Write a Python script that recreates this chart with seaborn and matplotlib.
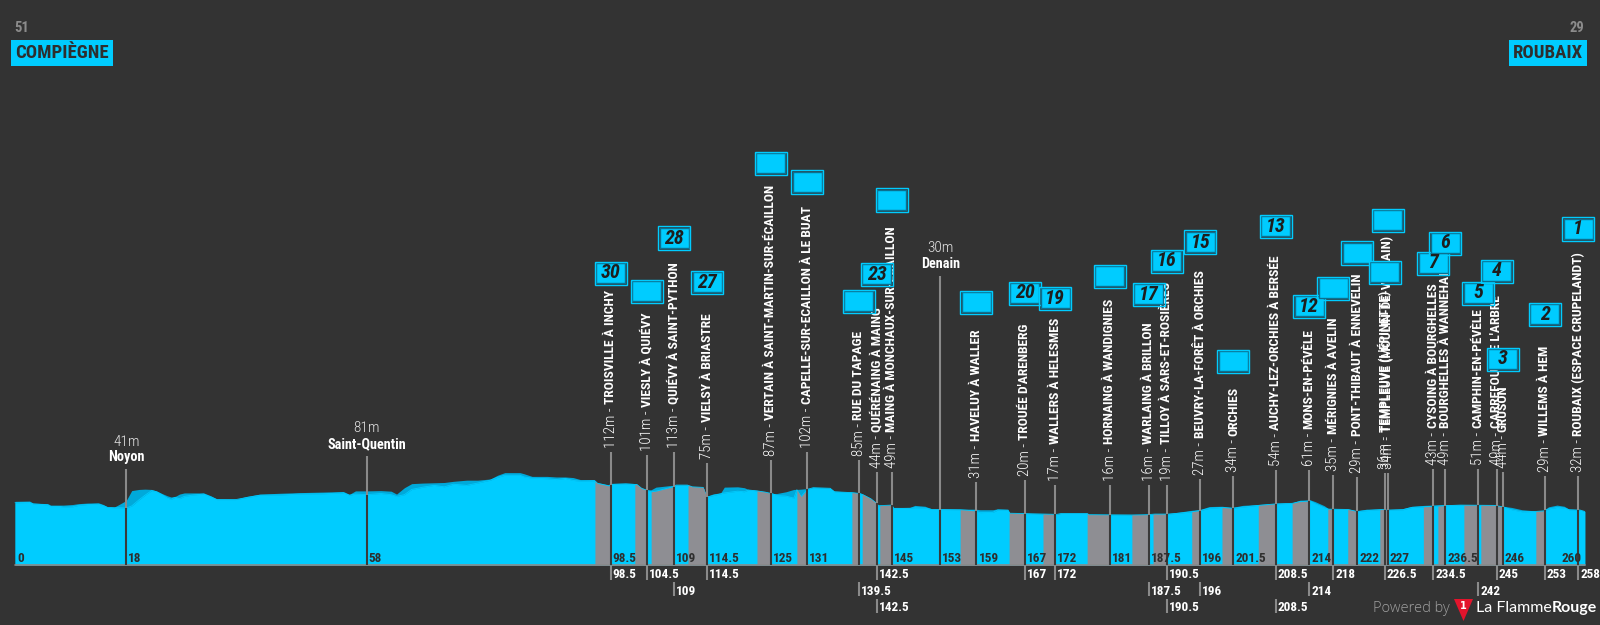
import os
import numpy as np
import matplotlib
matplotlib.use("Agg")
import matplotlib.pyplot as plt
import seaborn as sns
from matplotlib import font_manager as fm
from matplotlib.patches import Rectangle, Polygon

BG = "#333333"
CYAN = "#00CCFF"
CYAN_DARK = "#00A9DA"
GREY = "#8E8E93"
LINE = "#8A8A8A"
INK = "#2E2E2E"

# elevation profile, km from start / metres (lighter fill and darker top layer)
KM = [0.0, 2.4, 3.0, 5.4, 5.9, 7.5, 8.0, 9.5, 10.5, 12.0, 13.8, 14.6, 15.3, 16.4, 17.2,
      18.4, 19.3, 20.5, 21.5, 22.6, 23.4, 24.3, 25.2, 25.8, 26.5, 27.2, 28.0, 29.5, 31.2,
      32.4, 33.4, 36.5, 38.3, 40.5, 44.0, 47.0, 51.0, 54.3, 55.3, 56.3, 58.2, 60.5, 62.2,
      63.1, 64.4, 65.6, 67.5, 69.3, 71.0, 72.5, 74.7, 76.5, 78.6, 79.8, 81.0, 83.5, 84.2,
      85.5, 88.0, 89.5, 91.0, 92.3, 93.5, 95.8, 96.3, 98.2, 98.5, 101.0, 102.8, 103.6,
      104.5, 105.2, 106.0, 108.2, 109.0, 109.3, 111.2, 112.0, 113.8, 114.4, 115.5, 116.7,
      117.3, 119.5, 120.6, 121.3, 122.7, 124.0, 125.3, 126.0, 127.5, 128.8, 129.3, 130.0,
      131.0, 132.0, 134.8, 135.5, 138.4, 139.7, 140.2, 141.5, 142.5, 142.8, 145.0, 145.3,
      148.0, 148.8, 150.5, 151.6, 156.3, 158.8, 159.6, 161.7, 162.5, 164.2, 164.5, 172.3,
      173.0, 177.3, 177.6, 184.7, 187.2, 188.5, 190.7, 192.5, 194.6, 196.0, 197.5, 199.6,
      201.3, 203.0, 205.6, 208.4, 211.2, 212.5, 214.2, 215.0, 216.5, 217.2, 220.4, 221.9,
      223.5, 226.1, 226.8, 229.5, 231.0, 233.0, 236.5, 239.0, 244.6, 246.1, 247.5, 249.2,
      251.4, 252.8, 253.6, 255.0, 256.2, 257.0, 258.8, 259.6]
ELEV = [58, 59, 54, 51, 45, 45, 43, 44, 49, 52, 53, 48, 42, 41, 41,
        40, 47, 68, 84, 100, 96, 86, 74, 70, 77, 72, 80, 85, 88,
        78, 69, 69, 76, 84, 85, 88, 89, 92, 84, 88, 86, 90, 86,
        80, 86, 104, 112, 118, 113, 122, 118, 126, 136, 146, 153, 153, 147,
        143, 141, 138, 142, 135, 133, 134, 125, 116, 121, 123, 121, 108,
        101, 96, 98, 110, 114, 119, 119, 113, 111, 78, 83, 89,
        92, 98, 96, 102, 99, 95, 89, 83, 81, 74, 103, 79,
        104, 110, 108, 96, 93, 90, 86, 72, 56, 48, 50, 38,
        39, 41, 40, 35, 34, 30, 24, 25, 33, 32, 22, 18,
        21, 21, 17, 16, 17, 19, 19, 22, 27, 31, 39, 42,
        39, 43, 49, 54, 56, 62, 64, 55, 41, 36, 35, 28,
        31, 35, 33, 34, 42, 44, 48, 50, 49, 44, 34, 27,
        28, 30, 37, 42, 40, 34, 33, 28]
ELEV_TOP = [63, 64, 57, 55, 50, 50, 50, 52, 55, 57, 58, 52, 44, 43, 52,
            66, 100, 104, 105, 104, 99, 90, 82, 78, 80, 88, 92, 92, 92,
            82, 71, 70, 80, 88, 91, 93, 95, 97, 87, 99, 99, 100, 98,
            88, 110, 124, 126, 127, 128, 132, 136, 136, 140, 153, 162, 162, 158,
            149, 149, 147, 147, 145, 138, 138, 128, 120, 125, 126, 124, 110,
            103, 103, 112, 117, 118, 120, 120, 114, 112, 80, 89, 92,
            112, 113, 110, 104, 101, 96, 90, 90, 96, 104, 104, 105,
            107, 111, 109, 98, 95, 92, 88, 74, 57, 48, 51, 42,
            42, 49, 46, 37, 36, 36, 34, 34, 37, 36, 23, 19,
            22, 22, 18, 17, 18, 20, 21, 26, 32, 35, 45, 46,
            42, 49, 52, 56, 58, 67, 68, 62, 48, 38, 37, 30,
            36, 37, 34, 38, 46, 49, 52, 52, 51, 46, 42, 34,
            30, 31, 44, 50, 46, 36, 34, 28]

# cobbled sectors: label, altitude, km at the marker, km where the cobbles start, sector number
SECTOR_NAME = ["TROISVILLE À INCHY", "VIESLY À QUIÉVY", "QUIÉVY À SAINT-PYTHON", "VIELSY À BRIASTRE",
               "VERTAIN À SAINT-MARTIN-SUR-ÉCAILLON", "CAPELLE-SUR-ECAILLON À LE BUAT",
               "RUE DU TAPAGE", "QUÉRÉNAING À MAING", "MAING À MONCHAUX-SUR-ÉCAILLON",
               "HAVELUY À WALLER", "TROUÉE D'ARENBERG", "WALLERS À HELESMES",
               "HORNAING À WANDIGNIES", "WARLAING À BRILLON", "TILLOY À SARS-ET-ROSIÈRES",
               "BEUVRY-LA-FORÊT À ORCHIES", "ORCHIES", "AUCHY-LEZ-ORCHIES À BERSÉE",
               "MONS-EN-PÉVÈLE", "MÉRIGNIES À AVELIN", "PONT-THIBAUT À ENNEVELIN",
               "TEMPLEUVE (L'ÉPINETTE)", "TEMPLEUVE (MOULIN-DE-VERTAIN)", "CYSOING À BOURGHELLES",
               "BOURGHELLES À WANNEHAIN", "CAMPHIN-EN-PÉVÈLE", "CARREFOUR DE L'ARBRE",
               "GRUSON", "WILLEMS À HEM", "ROUBAIX (ESPACE CRUPELANDT)"]
SECTOR_ALT = [112, 101, 113, 75, 87, 102, 85, 44, 49, 31, 20, 17, 16, 16, 19,
              27, 34, 54, 61, 35, 29, 36, 34, 43, 49, 51, 49, 44, 29, 32]
SECTOR_KM = [98.5, 104.5, 109, 114.5, 125, 131, 139.5, 142.5, 145, 159, 167, 172, 181, 187.5, 190.5,
             196, 201.5, 208.5, 214, 218, 222, 226.5, 227, 234.5, 236.5, 242, 245, 246, 253, 258.5]
SECTOR_START = [95.9, 102.5, 105.2, 111.3, 122.7, 129.3, 138.4, 140.1, 143.0, 156.3, 164.4, 170.0,
                177.3, 184.7, 188.2, 194.6, 199.6, 205.6, 211.2, 217.1, 220.4, 225.7, 226.6,
                232.9, 235.3, 239.6, 242.4, 244.8, 251.5, 258.5]
SECTOR_NO = ["30", "", "28", "27", "", "", "", "23", "", "", "20", "19", "", "17", "16",
             "15", "", "13", "12", "", "", "", "", "7", "6", "5", "4", "3", "2", "1"]

TOWN_NAME = ["Noyon", "Saint-Quentin", "Denain"]
TOWN_ALT = [41, 81, 30]
TOWN_KM = [18.4, 58.2, 153]

INNER_KM = [0, 18.4, 58.2, 98.5, 109, 114.5, 125, 131, 145, 153, 159, 167, 172, 181,
            187.5, 196, 201.5, 214, 222, 227, 236.5, 246]
INNER_LABEL = ["0", "18", "58", "98.5", "109", "114.5", "125", "131", "145", "153", "159", "167",
               "172", "181", "187.5", "196", "201.5", "214", "222", "227", "236.5", "246"]
FINISH_LABEL = "260"

BELOW_KM = [98.5, 104.5, 109, 114.5, 139.5, 142.5, 142.5, 167, 172, 187.5, 190.5, 190.5,
            196, 208.5, 208.5, 214, 218, 226.5, 234.5, 242, 245, 253, 258.5]
BELOW_LABEL = ["98.5", "104.5", "109", "114.5", "139.5", "142.5", "142.5", "167", "172", "187.5",
               "190.5", "190.5", "196", "208.5", "208.5", "214", "218", "226.5", "234.5", "242",
               "245", "253", "258.5"]
BELOW_ROW = [1, 1, 2, 1, 2, 1, 3, 1, 1, 2, 1, 3, 2, 1, 3, 2, 1, 1, 1, 2, 1, 1, 1]

START, FINISH = "COMPIÈGNE", "ROUBAIX"
START_NO, FINISH_NO = "51", "29"

# layout (pixel rows from the top of the 1600x625 canvas)
LINE_TOP = [452, 455, 452, 463, 460, 452, 460, 472, 472, 482, 480, 485, 485, 485, 485,
            479, 476, 470, 470, 475, 477, 473, 473, 469, 469, 469, 469, 472, 476, 476]
BOX_Y = [273, 291, 238, 282, 163, 182, 301, 274, 200, 302, 293, 298, 276, 294, 261,
         242, 361, 226, 306, 288, 253, 272, 220, 263, 243, 293, 271, 359, 314, 229]
TOWN_TOP = [469, 456, 276]
TOWN_ALT_Y = [442, 428, 248]
TOWN_NAME_Y = [457, 444, 264]


def kx(px):
    return (px - 15) / 6.047


def my(py):
    return (519.6 - py) / 0.29


def font_file(keys, wmin, wmax, italic=False):
    for key in keys:
        for f in sorted(fm.fontManager.ttflist, key=lambda f: f.fname):
            fn = os.path.basename(f.fname).lower()
            w = f.weight if isinstance(f.weight, (int, float)) else fm.weight_dict.get(f.weight, 400)
            if key in fn and wmin <= w <= wmax and (f.style != "normal") == italic:
                return f.fname
    return None


COND = ["notosans-extracondensed", "notosans-condensed", "robotocondensed",
        "liberationsansnarrow", "dejavusanscondensed"]


def fp(size, wmin, wmax, italic=False, fallback_weight="bold"):
    path = font_file(COND, wmin, wmax, italic)
    if path:
        return fm.FontProperties(fname=path, size=size)
    return fm.FontProperties(family="DejaVu Sans", weight=fallback_weight,
                             style="italic" if italic else "normal", size=size * 0.8)


sns.set_theme(style="dark", rc={"axes.facecolor": BG, "figure.facecolor": BG})
plt.rcParams["font.family"] = ["DejaVu Sans"]

FP_NAME = fp(9.7, 700, 799)
FP_PRE = fp(10.8, 250, 350, fallback_weight="light")
FP_NUM = fp(14.5, 700, 799, italic=True)
FP_KM = fp(9.5, 700, 799)
FP_HEAD = fp(13.5, 700, 799)
FP_HNO = fp(10.5, 700, 799)
FP_TOWN = fp(10.3, 700, 799)
FP_TALT = fp(11, 250, 350, fallback_weight="light")

fig = plt.figure(figsize=(16, 6.25), dpi=100)
ax = fig.add_axes([0, 0, 1, 1])
ax.set_xlim(kx(0), kx(1600))
ax.set_ylim(my(625), my(0))
ax.set_axis_off()

base = my(565)
km = np.array(KM)
elev = np.array(ELEV)

# profile: darker top layer, then lighter fill
ax.fill_between(km, base, ELEV_TOP, color=CYAN_DARK, lw=0, zorder=1)
ax.fill_between(km, base, elev, color=CYAN, lw=0, zorder=2)
sns.lineplot(x=km, y=elev, ax=ax, color=CYAN, lw=0.6, zorder=2)

# cobbled sectors
for s, e in zip(SECTOR_START, SECTOR_KM):
    seg = [s] + [k for k in KM if s < k < e] + [e]
    ax.fill_between(seg, base, np.interp(seg, km, elev), color=GREY, lw=0, zorder=3)

ax.plot([0, KM[-1]], [base, base], color=LINE, lw=1.2, zorder=4)


def marker_line(k, top_px):
    top = np.interp(k, km, elev)
    ax.plot([k, k], [top, my(top_px)], color=LINE, lw=1.5, zorder=4, solid_capstyle="butt")
    ax.plot([k, k], [base, top], color="#3A3A3A", lw=1.5, zorder=4, solid_capstyle="butt")


for i, name in enumerate(SECTOR_NAME):
    k = SECTOR_KM[i]
    marker_line(k, LINE_TOP[i])
    t = ax.text(k, my(LINE_TOP[i] - 4), f"{SECTOR_ALT[i]}m - ", rotation=90, ha="center",
                va="bottom", fontproperties=FP_PRE, color="white", zorder=6)
    ax.annotate(name, xy=(0.5, 1.0), xycoords=t, rotation=90, ha="center", va="bottom",
                fontproperties=FP_NAME, color="white", zorder=6)
    # sector box
    w, h = 29 / 6.047, 20 / 0.29
    cy = my(BOX_Y[i])
    ax.add_patch(Rectangle((k - w / 2, cy - h / 2), w, h, fc=CYAN, ec="#0C6F8F", lw=1.0, zorder=7))
    ax.add_patch(Rectangle((k - w / 2 - 1.5 / 6.047, cy - h / 2 - 1.5 / 0.29), w + 3 / 6.047,
                           h + 3 / 0.29, fc="none", ec=CYAN, lw=1.0, zorder=7))
    if SECTOR_NO[i]:
        ax.text(k, cy, SECTOR_NO[i], ha="center", va="center", fontproperties=FP_NUM,
                color="#1E1E1E", zorder=8)

for i, name in enumerate(TOWN_NAME):
    k = TOWN_KM[i]
    marker_line(k, TOWN_TOP[i])
    ax.text(k, my(TOWN_ALT_Y[i]), f"{TOWN_ALT[i]}m", ha="center", va="center",
            fontproperties=FP_TALT, color="#E6E6E6", zorder=6)
    ax.text(k, my(TOWN_NAME_Y[i]), name, ha="center", va="center",
            fontproperties=FP_TOWN, color="white", zorder=6)

# km labels inside the profile
for k, lab in zip(INNER_KM, INNER_LABEL):
    ax.text(k + 2 / 6.047, my(558), lab, ha="left", va="center", fontproperties=FP_KM,
            color=INK, zorder=5)
ax.text(KM[-1] - 3 / 6.047, my(558), FINISH_LABEL, ha="right", va="center",
        fontproperties=FP_KM, color=INK, zorder=5)

# km labels under the baseline
for k, lab, r in zip(BELOW_KM, BELOW_LABEL, BELOW_ROW):
    y0 = 566 + (r - 1) * 16.3
    ax.plot([k, k], [my(y0), my(y0 + 14)], color=LINE, lw=1.5, zorder=4, solid_capstyle="butt")
    ax.text(k + 2 / 6.047, my(575 + (r - 1) * 16.2), lab, ha="left", va="center",
            fontproperties=FP_KM, color="white", zorder=5)

# start / finish headers
ax.text(kx(14), my(28), START_NO, ha="left", va="center", fontproperties=FP_HNO, color="#8C8C8C")
ax.text(kx(1584), my(28), FINISH_NO, ha="right", va="center", fontproperties=FP_HNO, color="#8C8C8C")
ax.text(kx(15), my(53), START, ha="left", va="center", fontproperties=FP_HEAD, color=INK,
        bbox=dict(boxstyle="square,pad=0.22", fc=CYAN, ec="none"))
ax.text(kx(1583), my(53), FINISH, ha="right", va="center", fontproperties=FP_HEAD, color=INK,
        bbox=dict(boxstyle="square,pad=0.22", fc=CYAN, ec="none"))

# credit
ax.text(kx(1373), my(609), "Powered by", ha="left", va="center", fontsize=10.5,
        family="Open Sans", weight="light", color="#A0A0A0")
ax.add_patch(Polygon([(kx(1454), my(599)), (kx(1473), my(599)), (kx(1463.5), my(621))],
                     closed=True, fc="#E3142C", ec="none"))
ax.text(kx(1463.5), my(606), "1", ha="center", va="center", fontsize=7, weight="bold", color="white")
lf = ax.text(kx(1476), my(608), "La Flamme", ha="left", va="center", fontsize=11.5,
             family="Lato", color="white")
ax.annotate("Rouge", xy=(1, 0.5), xycoords=lf, ha="left", va="center", fontsize=11.5,
            family="Lato", weight="bold", color="white")

fig.savefig("out.png", dpi=100, facecolor=BG)
